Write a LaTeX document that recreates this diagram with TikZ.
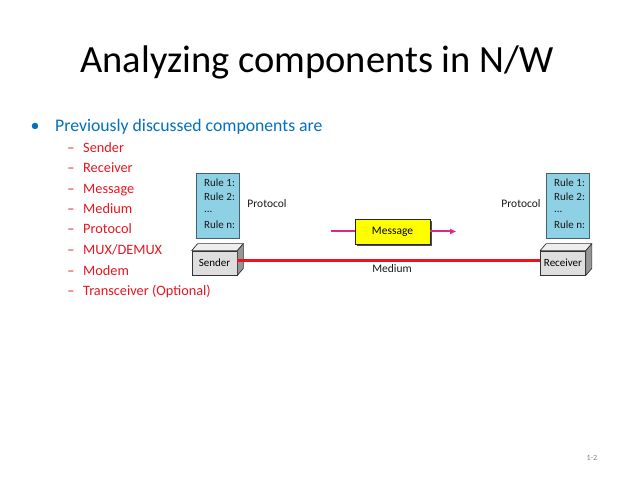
\documentclass[tikz,border=0pt]{standalone}
\usepackage{fontspec}
\setmainfont{Carlito}
\usetikzlibrary{arrows.meta,calc}
\definecolor{bulletblue}{RGB}{0,112,192}
\definecolor{itemred}{RGB}{232,22,32}
\definecolor{rulefill}{RGB}{142,209,229}
\definecolor{ruleline}{RGB}{70,95,110}
\definecolor{boxfront}{RGB}{222,222,222}
\definecolor{boxtop}{RGB}{238,238,238}
\definecolor{boxside}{RGB}{150,150,150}
\definecolor{msgyellow}{RGB}{255,255,0}
\definecolor{arrowmag}{RGB}{220,40,135}
\definecolor{mediumred}{RGB}{235,20,30}
\begin{document}
\begin{tikzpicture}[x=1pt,y=-1pt,
  titletext/.style={font=\fontsize{38.5}{40}\selectfont, text=black, inner sep=0pt, anchor=base},
  bullettext/.style={font=\fontsize{17.7}{21}\selectfont, text=bulletblue, inner sep=0pt, anchor=base west},
  subtext/.style={font=\fontsize{14.3}{17}\selectfont, text=itemred, inner sep=0pt, anchor=base west},
  rulebox/.style={draw=ruleline, fill=rulefill, line width=0.8pt, minimum width=43pt, minimum height=65pt, inner sep=0pt},
  ruletext/.style={font=\fontsize{11}{12}\selectfont, text=black!90, inner sep=0pt, anchor=base west},
  labeltext/.style={font=\fontsize{11.5}{12}\selectfont, text=black!90, inner sep=0pt},
  frontbox/.style={draw=black!80, fill=boxfront, line width=0.7pt, minimum width=45pt, minimum height=24pt, inner sep=0pt, font=\fontsize{11}{12}\selectfont},
  msgbox/.style={draw=black!85, fill=msgyellow, line width=0.7pt, minimum width=75pt, minimum height=25pt, inner sep=0pt, font=\fontsize{11.5}{12}\selectfont},
  facestyle/.style={draw=black!80, line width=0.7pt, line join=round},
  magline/.style={draw=arrowmag, line width=2pt}
]
\useasboundingbox (0,0) rectangle (638,478);
\fill[white] (0,0) rectangle (638,478);

% title
\node[titletext] (title) at (317,73) {Analyzing components in N/W};

% bullet list
\node[font=\fontsize{18}{22}\selectfont, text=bulletblue, inner sep=0pt, anchor=base] (dot) at (35,132) {•};
\node[bullettext] (b1) at (55,132) {Previously discussed components are};
\foreach \t/\y/\n in {Sender/153/s1, Receiver/173/s2, Message/194/s3, Medium/214/s4, Protocol/234/s5, {MUX/DEMUX}/255/s6, Modem/276/s7, Transceiver (Optional)/296/s8}{
  \node[subtext, anchor=base] (d\n) at (71,\y) {–};
  \node[subtext] (\n) at (83,\y) {\t};
}

% left rule box
\node[rulebox] (lrule) at (217.5,205.5) {};
\node[ruletext] (l1) at (204,187) {Rule 1:};
\node[ruletext] (l2) at (204,201) {Rule 2:};
\node[ruletext] (l3) at (204,213) {...};
\node[ruletext] (l4) at (204,229) {Rule n:};
\node[labeltext] (lprot) at (267,204) {Protocol};

% right rule box
\node[rulebox] (rrule) at (568,205.5) {};
\node[ruletext] (r1) at (554,187) {Rule 1:};
\node[ruletext] (r2) at (554,201) {Rule 2:};
\node[ruletext] (r3) at (554,213) {...};
\node[ruletext] (r4) at (554,229) {Rule n:};
\node[labeltext] (rprot) at (521,204) {Protocol};

% sender 3D box
\node[frontbox] (sender) at (214.5,263) {Sender};
\filldraw[facestyle, fill=boxtop] (sender.north west) -- ++(6,-7) -- ($(sender.north east)+(6,-7)$) -- (sender.north east) -- cycle;
\filldraw[facestyle, fill=boxside] (sender.north east) -- ++(6,-7) -- ($(sender.south east)+(6,-7)$) -- (sender.south east) -- cycle;

% receiver 3D box
\node[frontbox] (receiver) at (563,263) {Receiver};
\filldraw[facestyle, fill=boxtop] (receiver.north west) -- ++(6,-7) -- ($(receiver.north east)+(6,-7)$) -- (receiver.north east) -- cycle;
\filldraw[facestyle, fill=boxside] (receiver.north east) -- ++(6,-7) -- ($(receiver.south east)+(6,-7)$) -- (receiver.south east) -- cycle;

% medium
\draw[mediumred, line width=3pt] (sender.east |- 0,261) -- (receiver.west |- 0,261);
\node[labeltext] (medium) at (392,269) {Medium};

% message
\fill[black!70] (357,221) rectangle (432,246);
\node[msgbox] (msg) at (392.5,231.5) {Message};
\coordinate (min) at (331,231.5);
\coordinate (mout) at (456,231.5);
\path[magline] (min) -- (msg.west);
\path[magline, -{Triangle[length=6pt,width=5pt]}] (msg.east) -- (mout);

% page number
\node[font=\fontsize{8}{9}\selectfont, text=black!50, inner sep=0pt] (pg) at (592,458) {1-2};
\end{tikzpicture}
\end{document}
